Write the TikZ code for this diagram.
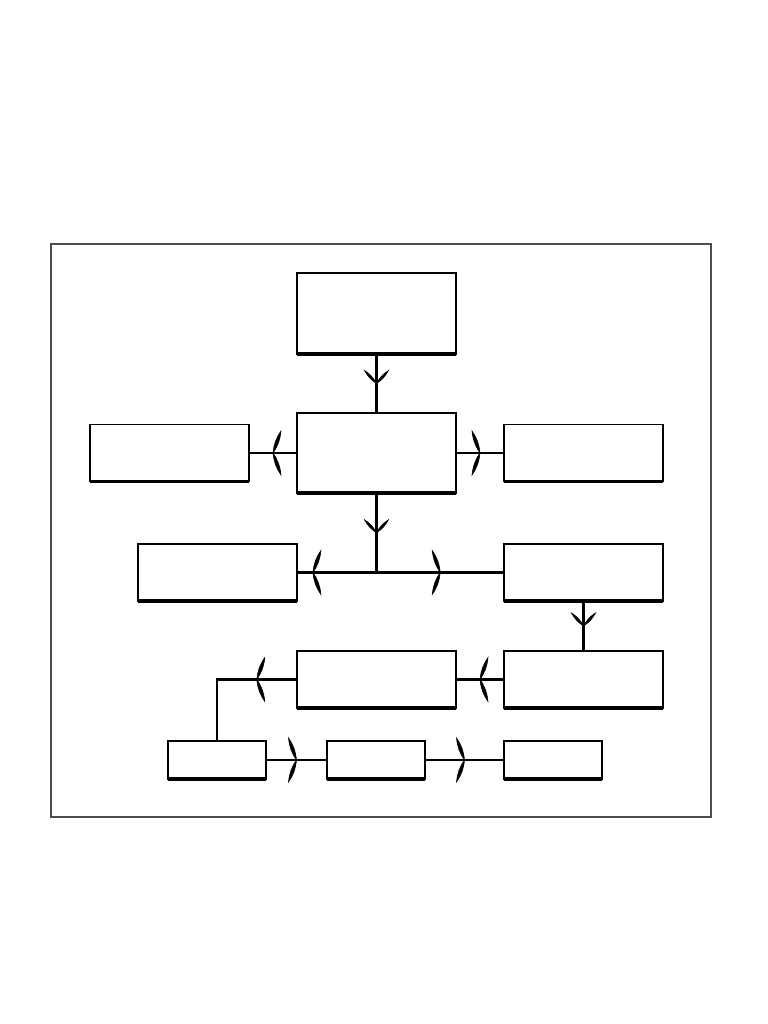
\documentclass[tikz,border=0pt]{standalone}
\usepackage{tikz}
\usetikzlibrary{calc}
\usetikzlibrary{decorations.markings}

\begin{document}
\begin{tikzpicture}[x=0.025cm, y=0.025cm,
	box/.style={draw, line width=1.3pt, minimum width=3.975cm, minimum height=1.425cm, inner sep=0pt, outer sep=0pt},
	smallbox/.style={box, minimum width=2.45cm, minimum height=0.95cm},
	conn/.style={line width=1.6pt},
	htip/.style={postaction={decorate, decoration={markings, mark=at position #1 with {
		\filldraw[line width=0.4pt] (0,0) to[bend left=14] (-2mm,5.5mm) to[bend left=14] (0,0);
		\filldraw[line width=0.4pt] (0,0) to[bend right=14] (-2mm,-5.5mm) to[bend right=14] (0,0);}}}},
	vtip/.style={postaction={decorate, decoration={markings, mark=at position #1 with {
		\filldraw[line width=0.4pt] (0,0) to[bend left=14] (-3.25mm,3mm) to[bend left=14] (0,0);
		\filldraw[line width=0.4pt] (0,0) to[bend right=14] (-3.25mm,-3mm) to[bend right=14] (0,0);}}}}]
	\useasboundingbox (0,0) rectangle (768,1024);
	\draw[black!70, line width=0.8pt] (51,207) rectangle (711,780); % frame
	% boxes
	\node[box, minimum height=2.025cm] (A) at (376.5,710.5) {};
	\node[box, minimum height=2cm] (B) at (376.5,571) {};
	\node[box] (L) at (169.5,571) {};
	\node[box] (R) at (583.5,571) {};
	\node[box] (C) at (217.5,451.5) {};
	\node[box] (D) at (583.5,451.5) {};
	\node[box] (E) at (583.5,344.5) {};
	\node[box] (F) at (376.5,344.5) {};
	\node[smallbox] (G) at (217,264) {};
	\node[smallbox] (H) at (376,264) {};
	\node[smallbox] (I) at (553,264) {};
	\foreach \b in {A,B,L,R,C,D,E,F,G,H,I}
		\draw[line width=2.2pt] (\b.south west) -- (\b.south east);
	\coordinate (j) at (B |- C);
	% connectors
	\draw[conn, vtip=0.5] (A) -- (B);
	\draw[conn, htip=0.5] (B) -- (L);
	\draw[conn, htip=0.5] (B) -- (R);
	\draw[conn, vtip=0.5] (B) -- (j);
	\draw[conn, htip=0.8] (j) -- (C);
	\draw[conn, htip=0.5] (j) -- (D);
	\draw[conn, vtip=0.5] (D) -- (E);
	\draw[conn, htip=0.5] (E) -- (F);
	\draw[conn, htip=0.284] (F) -| (G);
	\draw[conn, htip=0.5] (G) -- (H);
	\draw[conn, htip=0.5] (H) -- (I);
\end{tikzpicture}
\end{document}
